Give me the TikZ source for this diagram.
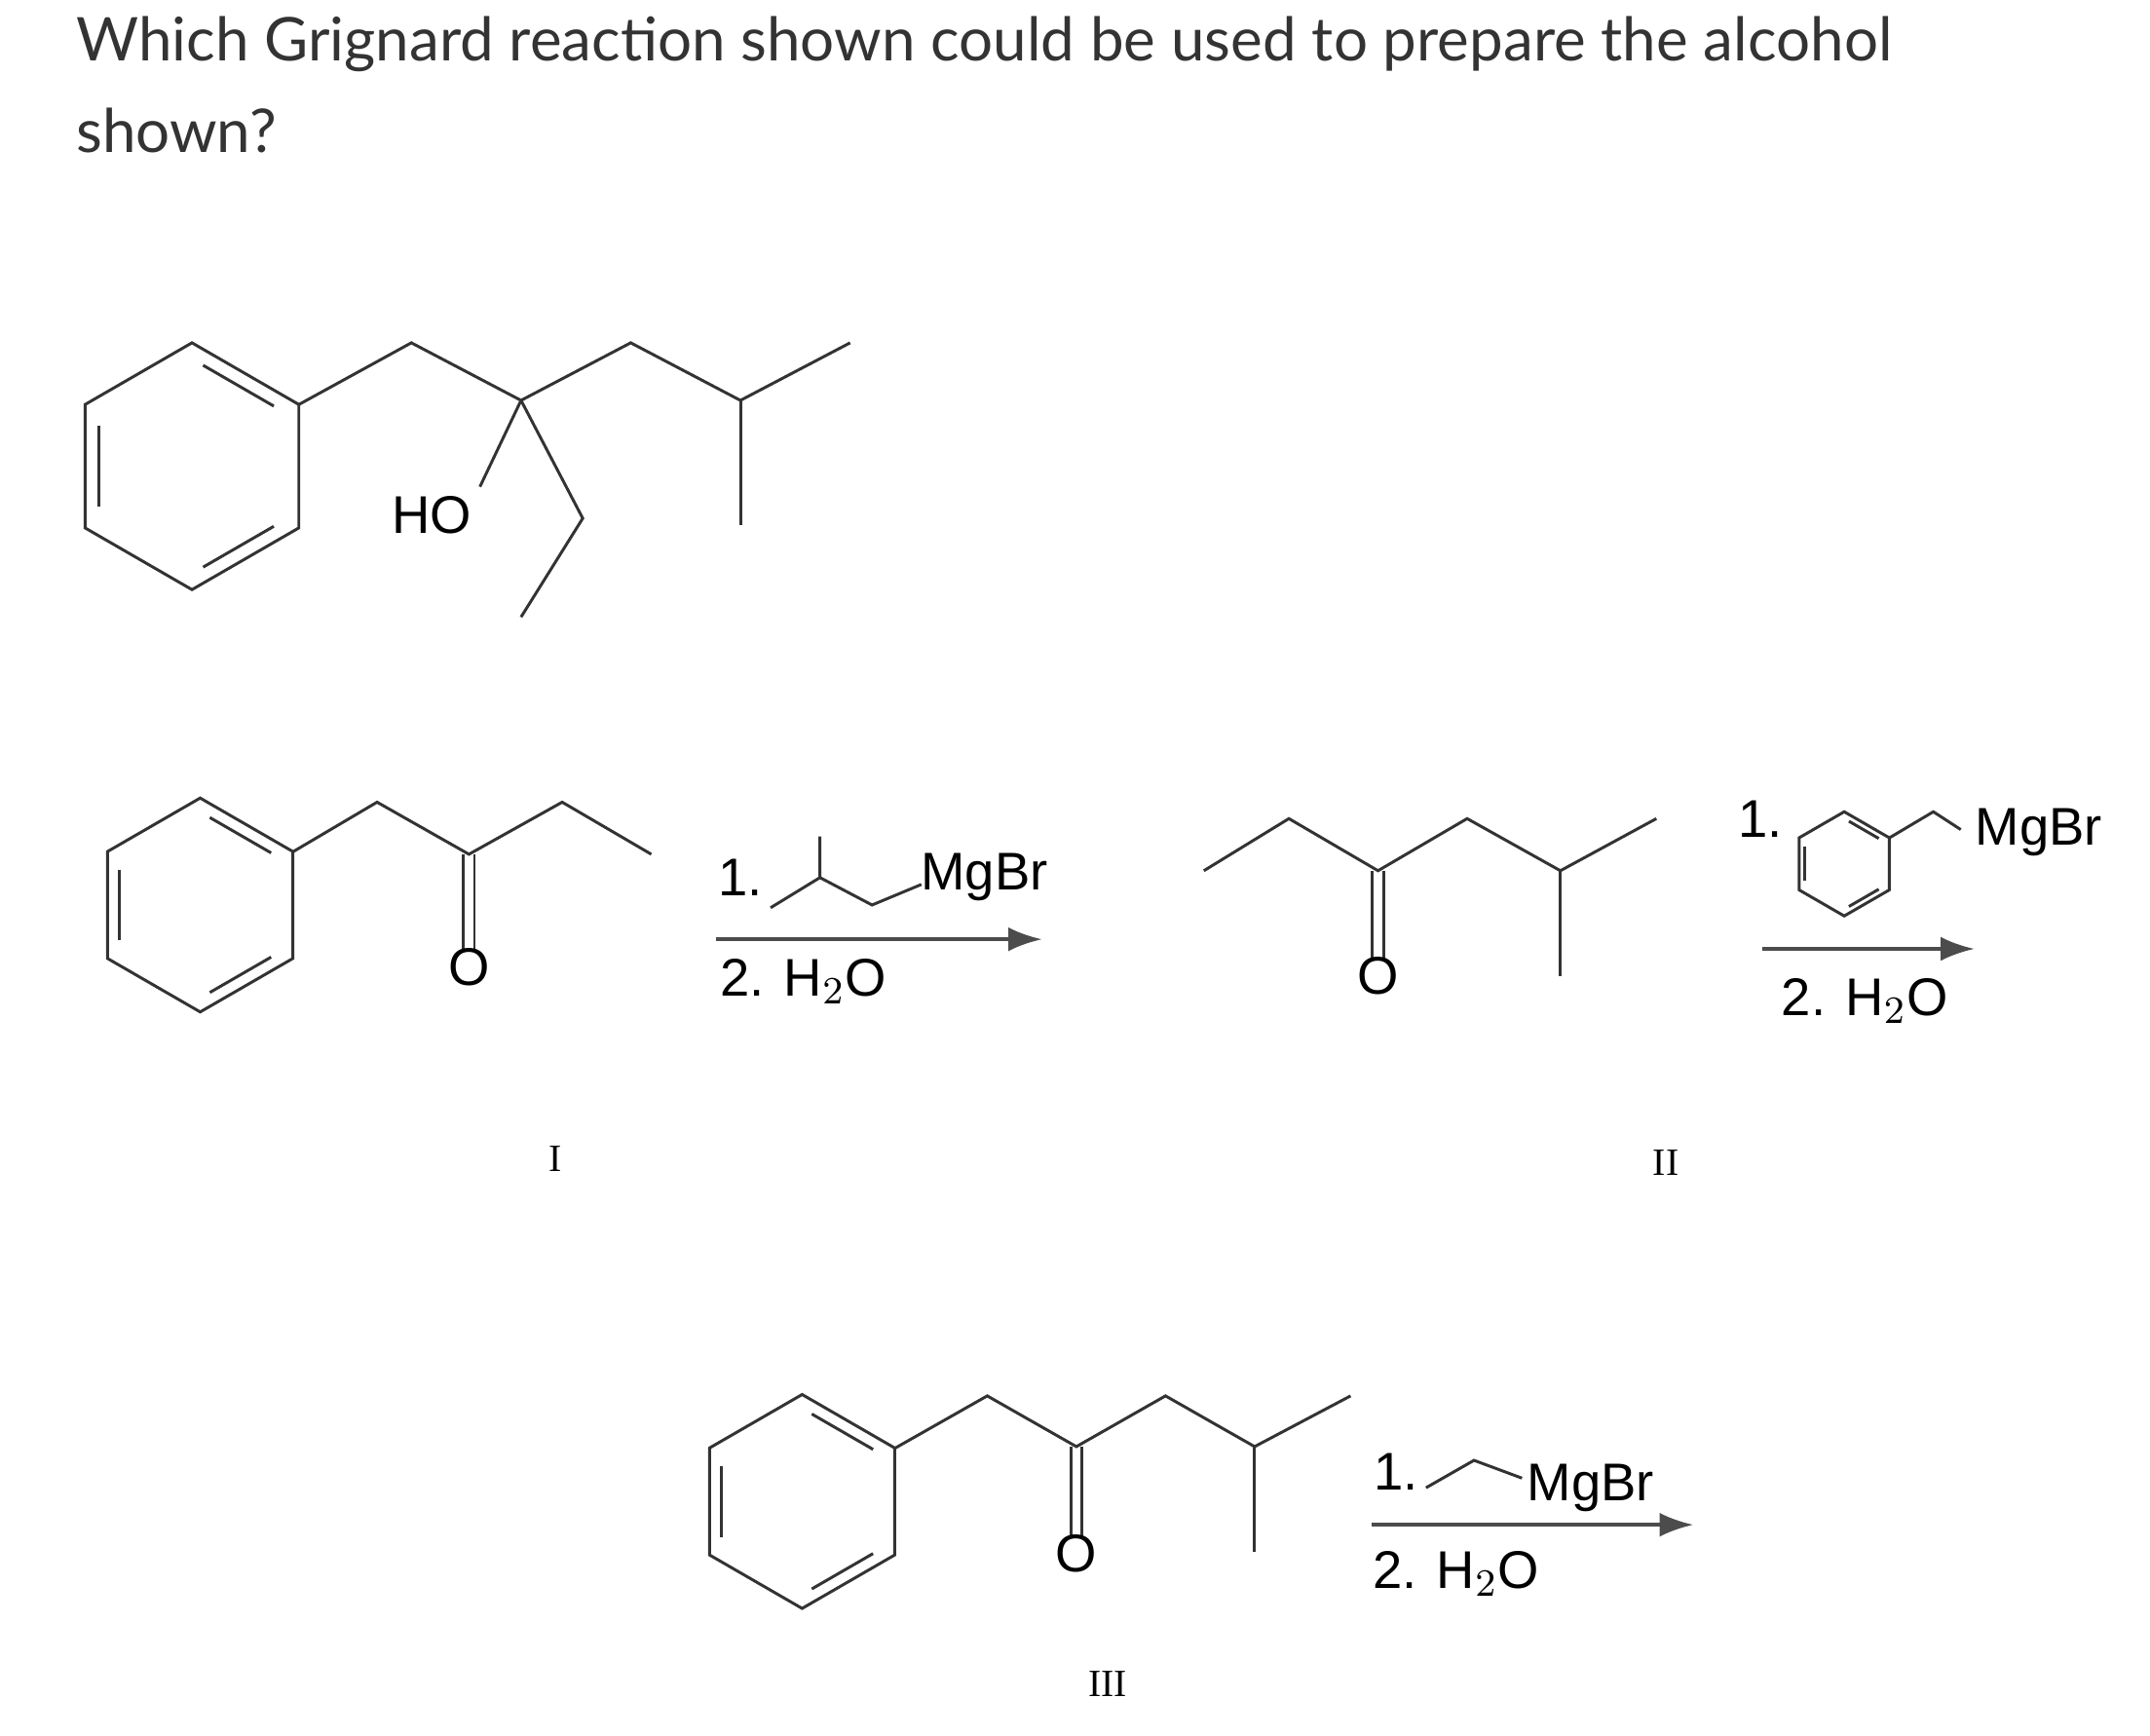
\documentclass[tikz,border=0pt]{standalone}
\usepackage{fontspec}
\setmainfont{Liberation Sans}
\newfontfamily\titlefont{Lato}
\newfontfamily\romfont{Liberation Serif}
\usetikzlibrary{arrows.meta}
\tikzset{bond/.style={line width=0.6pt,draw=black!80},
lab/.style={inner sep=0pt,font=\fontsize{11}{13}\selectfont},
rn/.style={inner sep=0pt,font=\romfont\fontsize{8}{10}\selectfont},
rxn/.style={line width=0.8pt,draw=black!70,-{Latex[length=7pt,width=5pt]}}}
\newcommand{\benz}[3]{% center x, y, radius
 \begin{scope}[shift={(#1,#2)}]
 \draw[bond] (90:#3)--(30:#3)--(-30:#3)--(-90:#3)--(-150:#3)--(150:#3)--cycle;
 \foreach \a/\b in {90/30,-30/-90,-150/150}{
  \draw[bond] ($(\a:#3*0.87)!0.12!(\b:#3*0.87)$)--($(\a:#3*0.87)!0.88!(\b:#3*0.87)$);}
 \end{scope}}
\usetikzlibrary{calc}
\begin{document}
\begin{tikzpicture}[x=0.01cm,y=-0.01cm]
\useasboundingbox (0,0) rectangle (1568,1266);
\node[anchor=west,inner sep=0pt,font=\titlefont\fontsize{12.5}{15}\selectfont,text=black!80] (t1) at (55,32) {Which Grignard reaction shown could be used to prepare the alcohol};
\node[anchor=west,inner sep=0pt,font=\titlefont\fontsize{12.5}{15}\selectfont,text=black!80] (t2) at (55,95) {shown?};
% target alcohol
\benz{140}{340}{90}
\draw[bond] (218,295)--(300,250)--(380,292)--(460,250)--(540,292)--(620,250);
\draw[bond] (540,292)--(540,383);
\draw[bond] (380,292)--(425,378)--(380,450);
\draw[bond] (380,292)--(350,355);
\node[lab] (ho) at (315,376) {HO};
% reaction I
\benz{146}{660}{78}
\draw[bond] (214,621)--(275,585)--(342,623)--(410,585)--(475,623);
\draw[bond] (338,623)--(338,693); \draw[bond] (346,623)--(346,693);
\node[lab] (o1) at (342,705) {O};
\node[lab] (r1a) at (540,640) {1.};
\draw[bond] (562,662)--(598,640)--(598,610); \draw[bond] (598,640)--(636,660)--(672,645);
\node[lab] (mg1) at (718,640) {MgBr};
\coordinate (a1s) at (522,685); \coordinate (a1e) at (760,685);
\draw[rxn] (a1s)--(a1e);
\node[lab] (r1b) at (586,716) {2. H$_2$O};
\node[rn] (n1) at (405,845) {I};
% reaction II
\draw[bond] (878,635)--(940,597)--(1005,635)--(1070,597)--(1138,635)--(1208,597);
\draw[bond] (1138,635)--(1138,712);
\draw[bond] (1001,635)--(1001,700); \draw[bond] (1009,635)--(1009,700);
\node[lab] (o2) at (1005,712) {O};
\node[lab] (r2a) at (1284,597) {1.};
\benz{1345}{630}{38}
\draw[bond] (1378,611)--(1410,592)--(1430,605);
\node[lab] (mg2) at (1487,607) {MgBr};
\coordinate (a2s) at (1285,692); \coordinate (a2e) at (1440,692);
\draw[rxn] (a2s)--(a2e);
\node[lab] (r2b) at (1360,730) {2. H$_2$O};
\node[rn] (n2) at (1215,848) {II};
% reaction III
\benz{585}{1095}{78}
\draw[bond] (653,1056)--(720,1018)--(785,1055)--(850,1018)--(915,1055)--(985,1018);
\draw[bond] (915,1055)--(915,1132);
\draw[bond] (781,1055)--(781,1122); \draw[bond] (789,1055)--(789,1122);
\node[lab] (o3) at (785,1133) {O};
\node[lab] (r3a) at (1018,1073) {1.};
\draw[bond] (1040,1085)--(1075,1065)--(1110,1078);
\node[lab] (mg3) at (1160,1085) {MgBr};
\coordinate (a3s) at (1000,1112); \coordinate (a3e) at (1235,1112);
\draw[rxn] (a3s)--(a3e);
\node[lab] (r3b) at (1062,1148) {2. H$_2$O};
\node[rn] (n3) at (808,1228) {III};
\end{tikzpicture}
\end{document}
